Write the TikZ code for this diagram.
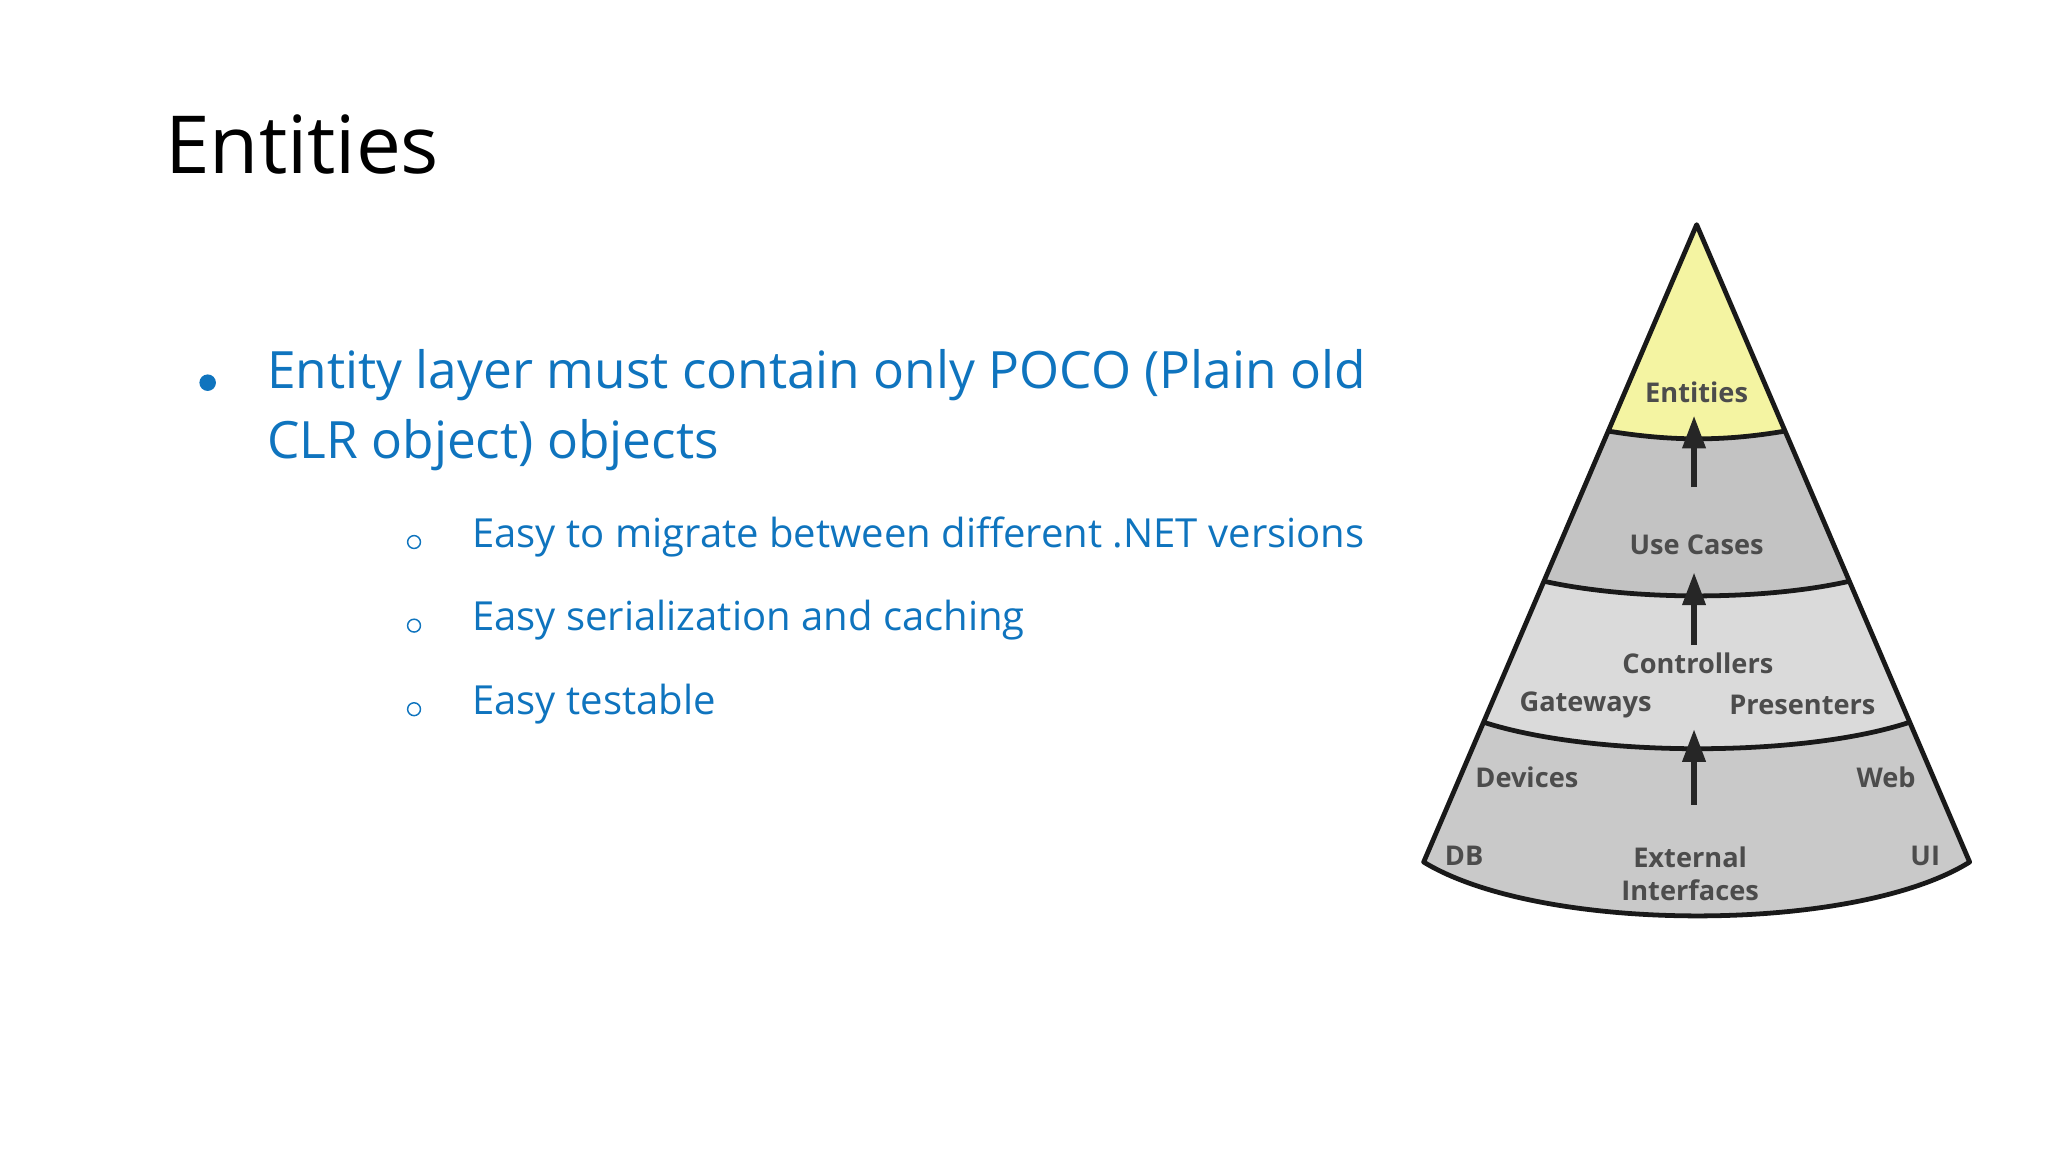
\documentclass[tikz,border=0pt]{standalone}
\usepackage{fontspec}
\setmainfont{Open Sans}
\usetikzlibrary{arrows.meta}
\definecolor{bl}{HTML}{0F74BE}
\definecolor{yel}{HTML}{F4F4A2}
\definecolor{g1}{HTML}{C3C3C3}
\definecolor{g2}{HTML}{DADADA}
\definecolor{g3}{HTML}{C9C9C9}
\tikzset{
 main/.style={font=\fontsize{14}{17}\selectfont,text=bl,anchor=west,inner sep=0},
 sub/.style={font=\fontsize{10.9}{13}\selectfont,text=bl,anchor=west,inner sep=0},
 lab/.style={font=\fontsize{7.4}{9}\selectfont\bfseries,text=black!70,inner sep=0,align=center},
 arr/.style={-{Triangle[length=9pt,width=6pt]},line width=1.8pt,black!85},
 edge/.style={line width=1.3pt,black!90}
}
\begin{document}
\begin{tikzpicture}[x=0.0125cm,y=-0.0125cm]
\useasboundingbox (0,0) rectangle (1568,882);
\node[anchor=west,inner sep=0,font=\fontsize{21.8}{26}\selectfont] (title) at (126,111) {Entities};
\node[circle,fill=bl,inner sep=0,minimum size=4.5pt] (b1) at (159,293) {};
\node[main] (l1) at (204,287) {Entity layer must contain only POCO (Plain old};
\node[main] (l2) at (204,341) {CLR object) objects};
\foreach \y/\t [count=\i] in {411/Easy to migrate between different .NET versions,475/Easy serialization and caching,539/Easy testable}{
 \node[circle,draw=bl,line width=0.4pt,inner sep=0,minimum size=3.5pt] (c\i) at (317,\y+4) {};
 \node[sub] (s\i) at (361,\y) {\t};
}
% pyramid
\fill[g3] (1136,553) .. controls (1220,580) and (1380,580) .. (1462,553) -- (1508,662) .. controls (1420,715) and (1180,715) .. (1090,662) -- cycle;
\fill[g2] (1182,445) .. controls (1250,460) and (1350,460) .. (1416,445) -- (1462,553) .. controls (1380,580) and (1220,580) .. (1136,553) -- cycle;
\fill[g1] (1231,330) .. controls (1280,338) and (1320,338) .. (1367,330) -- (1416,445) .. controls (1350,460) and (1250,460) .. (1182,445) -- cycle;
\fill[yel] (1299,172) -- (1367,330) .. controls (1320,338) and (1280,338) .. (1231,330) -- cycle;
\draw[edge,line join=round] (1299,172) -- (1090,660) .. controls (1180,715) and (1420,715) .. (1508,660) -- cycle;
\draw[edge] (1231,330) .. controls (1280,338) and (1320,338) .. (1367,330);
\draw[edge] (1182,445) .. controls (1250,460) and (1350,460) .. (1416,445);
\draw[edge] (1136,553) .. controls (1220,580) and (1380,580) .. (1462,553);
\coordinate (a1s) at (1297,373); \coordinate (a1e) at (1297,318);
\coordinate (a2s) at (1297,494); \coordinate (a2e) at (1297,438);
\coordinate (a3s) at (1297,616); \coordinate (a3e) at (1297,558);
\draw[arr] (a1s) -- (a1e);
\draw[arr] (a2s) -- (a2e);
\draw[arr] (a3s) -- (a3e);
\node[lab] (en) at (1299,300) {Entities};
\node[lab] (uc) at (1299,417) {Use Cases};
\node[lab] (co) at (1300,508) {Controllers};
\node[lab] (ga) at (1214,540) {Gateways};
\node[lab] (pr) at (1380,540) {Presenters};
\node[lab] (de) at (1169,595) {Devices};
\node[lab] (we) at (1444,595) {Web};
\node[lab] (db) at (1121,655) {DB};
\node[lab] (ui) at (1474,655) {UI};
\node[lab] (ex) at (1294,669) {External\\Interfaces};
\end{tikzpicture}
\end{document}
